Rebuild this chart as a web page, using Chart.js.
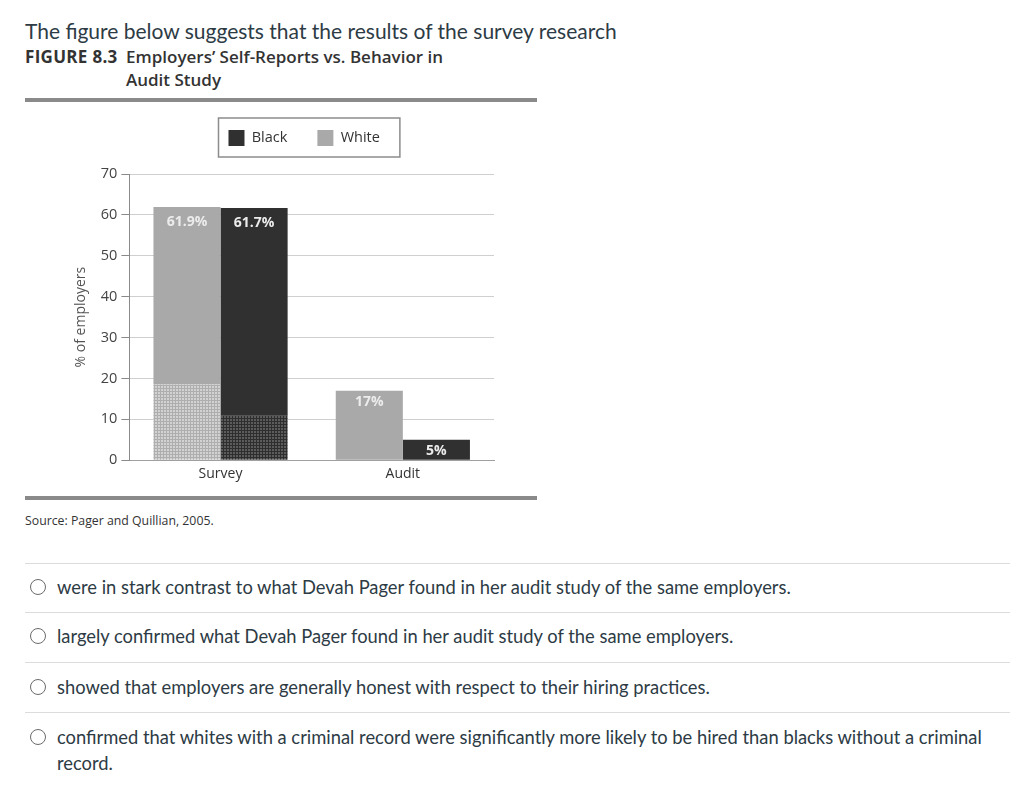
<!DOCTYPE html>
<html>
<head>
<meta charset="utf-8">
<script src="https://cdn.jsdelivr.net/npm/chart.js@4/dist/chart.umd.min.js"></script>
<style>
  html, body { margin: 0; padding: 0; background: #fff; }
  body { width: 1024px; height: 802px; position: relative; overflow: hidden; }
  .abs { position: absolute; white-space: nowrap; }
  #q { left: 25px; top: 18px; font: 21px Lato, sans-serif; color: #2d3b45; line-height: 26px; }
  #fig1 { left: 25px; top: 45px; font: 700 17px "Open Sans", sans-serif; letter-spacing: 0.3px; color: #333; line-height: 23px; }
  #fig2 { left: 126px; top: 45px; font: 600 17px "Open Sans", sans-serif; color: #333; line-height: 23px; }
  .rule { position: absolute; left: 25px; width: 512px; height: 4px; background: #8a8a8a; }
  #src { left: 25px; top: 512px; font: 12.3px "Open Sans", sans-serif; color: #333; line-height: 18px; }
  #chartWrap { position: absolute; left: 25px; top: 100px; width: 480px; height: 398px; }
  .sep { position: absolute; left: 25px; width: 985px; height: 1px; background: #dcdcdc; }
  .opt { position: absolute; left: 57px; width: 945px; font: 18.35px Lato, sans-serif; color: #2d3b45; line-height: 26px; }
  .radio { position: absolute; width: 14px; height: 14px; border: 1px solid #6b6b6b; border-radius: 50%; background: #fff; left: 30px; }
</style>
</head>
<body>
<div id="q" class="abs">The figure below suggests that the results of the survey research</div>
<div id="fig1" class="abs">FIGURE 8.3</div>
<div id="fig2" class="abs">Employers’ Self-Reports vs. Behavior in<br>Audit Study</div>
<div class="rule" style="top:98px"></div>
<div id="chartWrap"><canvas id="c"></canvas></div>
<div class="rule" style="top:496px"></div>
<div id="src" class="abs">Source: Pager and Quillian, 2005.</div>

<div class="sep" style="top:563px"></div>
<div class="radio" style="top:579px"></div>
<div class="opt" style="top:574px">were in stark contrast to what Devah Pager found in her audit study of the same employers.</div>
<div class="sep" style="top:612px"></div>
<div class="radio" style="top:628px"></div>
<div class="opt" style="top:623px">largely confirmed what Devah Pager found in her audit study of the same employers.</div>
<div class="sep" style="top:662px"></div>
<div class="radio" style="top:679px"></div>
<div class="opt" style="top:674px">showed that employers are generally honest with respect to their hiring practices.</div>
<div class="sep" style="top:712px"></div>
<div class="radio" style="top:729px"></div>
<div class="opt" style="top:724px">confirmed that whites with a criminal record were significantly more likely to be hired than blacks without a criminal record.</div>

<script>
// ---- data ----
const categories = ["Survey", "Audit"];
const whiteTotals = [61.9, 17];     // % of employers, White
const blackTotals = [61.7, 5];      // % of employers, Black
const whiteHatched = [18.5, 0];     // hatched lower portion, White
const blackHatched = [11, 0];       // hatched lower portion, Black
const yTicks = [0, 10, 20, 30, 40, 50, 60, 70];
const seriesNames = ["White", "Black"];
const axisTitle = "% of employers";

// ---- patterns ----
function hatch(base, line) {
  const p = document.createElement('canvas');
  p.width = 3; p.height = 3;
  const g = p.getContext('2d');
  g.fillStyle = base; g.fillRect(0, 0, 3, 3);
  g.fillStyle = line; g.fillRect(0, 0, 3, 1); g.fillRect(0, 0, 1, 3);
  return document.getElementById('c').getContext('2d').createPattern(p, 'repeat');
}
const WHITE = '#a9a9a9', BLACK = '#303030';
const whiteSolid = whiteTotals.map((v, i) => v - whiteHatched[i]);
const blackSolid = blackTotals.map((v, i) => v - blackHatched[i]);

const labelPlugin = {
  id: 'valueLabels',
  afterDatasetsDraw(chart) {
    const ctx = chart.ctx;
    ctx.save();
    ctx.font = '700 14px "Open Sans", sans-serif';
    ctx.fillStyle = '#ececec';
    ctx.textAlign = 'center';
    ctx.textBaseline = 'middle';
    chart.data.datasets.forEach((ds, di) => {
      if (!ds.totals) return;
      const meta = chart.getDatasetMeta(di);
      meta.data.forEach((bar, i) => {
        const t = ds.totals[i];
        if (!t) return;
        ctx.fillText(t + '%', bar.x, bar.y + (t > 30 ? 15 : 11));
      });
    });
    ctx.restore();
  }
};
const legendBox = {
  id: 'legendBox',
  afterInit(chart) {
    const lg = chart.legend;
    if (lg && !lg._patched) {
      const orig = lg.fit;
      lg.fit = function () { orig.call(this); this.height += 18; };
      lg._patched = true;
    }
  },
  afterLayout(chart) {
    const lg = chart.legend;
    if (lg) { lg.left -= 7.5; lg.right -= 7.5; }
  },
  afterDraw(chart) {
    const hb = chart.legend && chart.legend.legendHitBoxes;
    if (!hb || !hb.length) return;
    let l = Infinity, r = -Infinity, t = Infinity, b = -Infinity;
    hb.forEach(h => { l = Math.min(l, h.left); r = Math.max(r, h.left + h.width); t = Math.min(t, h.top); b = Math.max(b, h.top + h.height); });
    const ctx = chart.ctx;
    ctx.save();
    ctx.strokeStyle = '#8c8c8c';
    ctx.lineWidth = 1.5;
    ctx.strokeRect(l - 10, t - 12, (r - l) + 30, (b - t) + 23);
    ctx.restore();
  }
};

new Chart(document.getElementById('c'), {
  type: 'bar',
  data: {
    labels: categories,
    datasets: [
      { label: seriesNames[0] + ' hatched', data: whiteHatched, backgroundColor: hatch('#d2d2d2', '#aeaeae'), stack: 'w', legendHide: true },
      { label: seriesNames[0], data: whiteSolid, totals: whiteTotals, backgroundColor: WHITE, stack: 'w' },
      { label: seriesNames[1] + ' hatched', data: blackHatched, backgroundColor: hatch('#5c5c5c', '#2e2e2e'), stack: 'b', legendHide: true },
      { label: seriesNames[1], data: blackSolid, totals: blackTotals, backgroundColor: BLACK, stack: 'b' }
    ]
  },
  options: {
    responsive: true,
    maintainAspectRatio: false,
    animation: false,
    categoryPercentage: 0.736,
    barPercentage: 1.0,
    layout: { padding: { left: 36, right: 11, top: 0, bottom: 11 } },
    plugins: {
      tooltip: { enabled: false },
      legend: {
        position: 'top',
        fullSize: false,
        labels: {
          boxWidth: 16, boxHeight: 16, padding: 30,
          color: '#333',
          font: { family: '"Open Sans", sans-serif', size: 14.5 },
          filter: (item, data) => !data.datasets[item.datasetIndex].legendHide,
          sort: (a, b) => b.datasetIndex - a.datasetIndex
        }
      }
    },
    scales: {
      x: {
        stacked: true,
        grid: { display: false, drawTicks: false },
        border: { display: true, color: '#a0a0a0' },
        ticks: { color: '#333', padding: 5, font: { family: '"Open Sans", sans-serif', size: 14 } }
      },
      y: {
        stacked: true,
        min: 0, max: 70,
        afterBuildTicks: (s) => { s.ticks = yTicks.map(v => ({ value: v })); },
        grid: { color: '#cfcfcf', tickColor: '#8a8a8a', tickLength: 8 },
        border: { display: true, color: '#8a8a8a' },
        ticks: { color: '#444', padding: 4, font: { family: '"Open Sans", sans-serif', size: 14.5 } },
        title: { display: true, text: axisTitle, color: '#555', padding: { top: 12, bottom: 7 }, font: { family: '"Open Sans", sans-serif', size: 14 } }
      }
    }
  },
  plugins: [labelPlugin, legendBox]
});
</script>
</body>
</html>
